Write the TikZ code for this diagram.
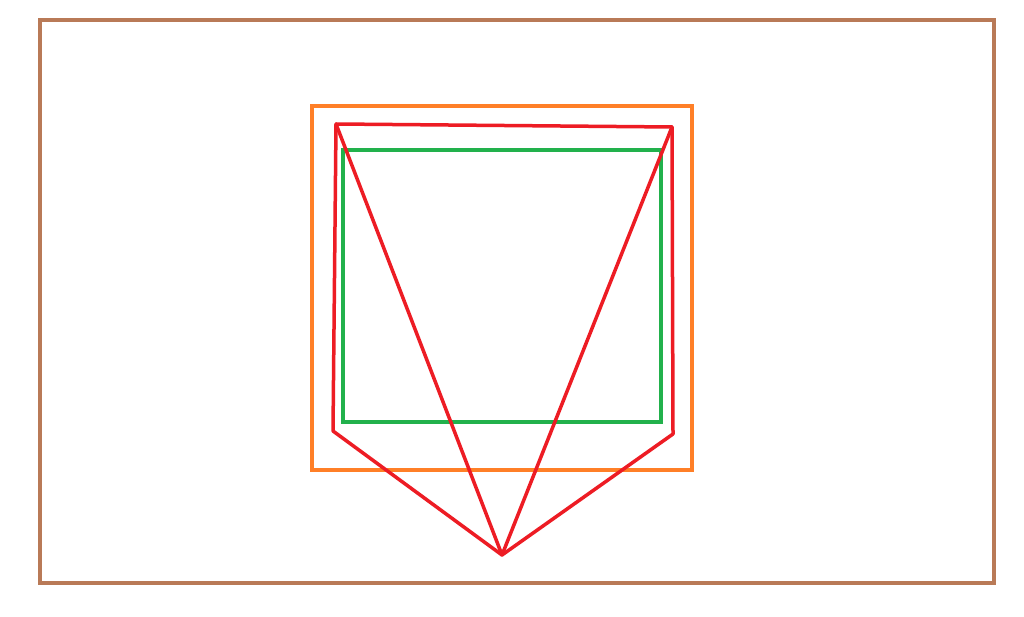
\documentclass[tikz,border=0pt]{standalone}
\definecolor{pbrown}{HTML}{B97A57}
\definecolor{porange}{HTML}{FF7F27}
\definecolor{pgreen}{HTML}{22B14C}
\definecolor{pred}{HTML}{ED1C24}
\begin{document}
\begin{tikzpicture}[x=1pt,y=-1pt,
  frame/.style={line width=3.5pt,line join=miter},
  redline/.style={draw=pred,line width=3.5pt,line join=round,line cap=round}]
\useasboundingbox (0,0) rectangle (1024,617);
\fill[white] (0,0) rectangle (1024,617);
\draw[frame,pbrown] (40,20) rectangle (994,583);
\draw[frame,porange] (312,106) rectangle (692,470);
\draw[frame,pgreen] (343,150) rectangle (661,422);
\coordinate (tl) at (336,124);
\coordinate (tr) at (672,127);
\coordinate (br) at (673,434);
\coordinate (bl) at (333,431);
\coordinate (ap) at (502,555);
\draw[redline] (tl) -- (tr) -- (br) -- (ap) -- (bl) -- cycle;
\draw[redline] (tl) -- (ap) -- (tr);
\end{tikzpicture}
\end{document}
